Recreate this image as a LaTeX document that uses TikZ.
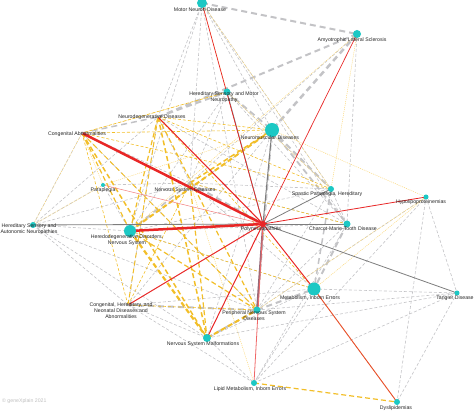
\documentclass[tikz,border=0pt]{standalone}
\usepackage{fontspec}
\setmainfont{Liberation Sans}
\usepackage{xcolor}
\usetikzlibrary{positioning,calc}

\definecolor{nodecyan}{RGB}{28,200,196}
\definecolor{edgered}{RGB}{232,38,38}
\definecolor{edgeyel}{RGB}{242,190,40}
\definecolor{edgelyel}{RGB}{250,215,120}
\definecolor{edgegrey}{RGB}{195,195,198}
\definecolor{edgedark}{RGB}{125,125,125}

\tikzset{
  dis/.style={circle, fill=nodecyan, inner sep=0pt, minimum size=#1},
  hub/.style={circle, fill=black!25, inner sep=0pt, minimum size=3pt},
  lbl/.style={font=\fontsize{5.2}{6}\selectfont, text=black!85, align=center, inner sep=0pt},
  gthin/.style={draw=edgegrey, line width=0.6pt, dash pattern=on 3pt off 2pt},
  gthick/.style={draw=edgegrey, line width=#1, dash pattern=on 6pt off 4pt},
  ythick/.style={draw=edgeyel, line width=#1, dash pattern=on 5pt off 3pt},
  ythin/.style={draw=edgeyel, line width=0.6pt, dash pattern=on 3pt off 2pt},
  ydot/.style={draw=edgelyel, line width=0.5pt, dash pattern=on 1pt off 1pt},
  redline/.style={draw=edgered, line width=#1},
  darkline/.style={draw=edgedark, line width=#1},
}

\begin{document}
\begin{tikzpicture}[x=1pt, y=-1pt]
  \useasboundingbox (0,0) rectangle (474,411);

  % disease nodes
  \coordinate (mnd) at (202,3);
  \coordinate (als) at (357,34);
  \coordinate (hsmn) at (227,92);
  \coordinate (neuro) at (158,117);
  \coordinate (cong) at (82,133);
  \coordinate (nmd) at (272,130);
  \coordinate (nsd) at (190,183);
  \coordinate (para) at (103,185);
  \coordinate (sph) at (331,189);
  \coordinate (hypo) at (426,197);
  \coordinate (hsan) at (33,225);
  \coordinate (hdnd) at (130,231);
  \coordinate (poly) at (263,224);
  \coordinate (cmt) at (347,224);
  \coordinate (mie) at (314,289);
  \coordinate (tang) at (457,293);
  \coordinate (pnsd) at (257,310);
  \coordinate (chnd) at (128,305);
  \coordinate (nsm) at (207,338);
  \coordinate (lmie) at (254,383);
  \coordinate (dysl) at (397,402);

  % thin grey links
  \foreach \a/\b in {mnd/neuro, mnd/nsd, mnd/hdnd, mnd/pnsd, mnd/cmt, mnd/nmd, mnd/sph,
      als/nsd, als/cmt, hsmn/nsd, hsmn/cmt, hsmn/sph, hsmn/hdnd,
      neuro/chnd, neuro/nsd, neuro/cmt, cong/hsan, cong/nsd, cong/pnsd,
      nmd/chnd, nmd/nsm, nmd/hdnd, nsd/sph, nsd/cmt, nsd/mie,
      para/hsan, para/nsd, para/hdnd, hsan/neuro, hsan/hdnd, hsan/chnd,
      hsan/nsm, hsan/pnsd, hsan/nsd, hdnd/cmt, hdnd/sph, hdnd/mie,
      chnd/nsm, chnd/lmie, chnd/mie, nsm/mie, nsm/lmie, nsm/tang,
      pnsd/tang, pnsd/cmt, pnsd/sph, mie/tang, mie/lmie,
      lmie/hypo, lmie/tang, lmie/cmt, hypo/dysl, tang/dysl, hypo/tang,
      mie/dysl, cmt/sph, pnsd/hypo}
    \draw[gthin] (\a) -- (\b);

  % heavy grey links
  \foreach \a/\b/\w in {mnd/als/2pt, als/neuro/2pt, als/nmd/2.5pt, neuro/hsmn/2pt,
      hsmn/nmd/1.8pt, nmd/sph/2pt, nmd/cmt/1.8pt, cong/neuro/1.5pt,
      pnsd/mie/2pt, cmt/mie/2pt, hdnd/nsd/1.5pt, chnd/pnsd/2pt,
      nsm/pnsd/2pt, pnsd/nmd/1.8pt, nsd/poly/2pt, sph/mie/1.5pt}
    \draw[gthick=\w] (\a) -- (\b);

  % light yellow links
  \foreach \a/\b in {mnd/hsmn, mnd/sph, als/sph, als/hdnd, nmd/hypo, hypo/pnsd,
      hypo/mie, para/nmd, para/cong, para/hsan, sph/hsmn, nsd/lmie,
      cong/hsmn, hsan/cong}
    \draw[ydot] (\a) -- (\b);

  % yellow links
  \foreach \a/\b in {cong/nmd, neuro/nmd, chnd/pnsd, cong/chnd, hdnd/mie,
      neuro/mie, neuro/sph, hsmn/cong, nsd/cmt, chnd/nsd, cong/sph}
    \draw[ythin] (\a) -- (\b);

  \foreach \a/\b/\w in {hdnd/nmd/2pt, hdnd/nsm/2.2pt, cong/nsm/1.5pt, neuro/nsm/1.5pt,
      nsm/pnsd/2pt, cong/hdnd/1.2pt, neuro/hdnd/1.2pt, hdnd/pnsd/1.2pt,
      neuro/pnsd/1.2pt, lmie/dysl/1.2pt, cong/pnsd/1pt, nsd/nsm/1.2pt,
      chnd/neuro/1pt, nsd/nmd/1.5pt}
    \draw[ythick=\w] (\a) -- (\b);

  % solid links of Polyneuropathies
  \foreach \b/\w in {hsmn/0.8pt, nmd/1pt, sph/0.8pt, cmt/0.8pt, tang/0.8pt, hsan/0.8pt}
    \draw[darkline=\w] (poly) -- (\b);
  \draw[draw={rgb,255:red,150;green,105;blue,120}, line width=1.8pt] (poly) -- (pnsd);

  \foreach \b/\w in {mnd/0.7pt, als/0.7pt, neuro/1.1pt, cong/2.5pt, hdnd/2.5pt,
      chnd/1pt, nsm/1pt, mie/1pt, hypo/0.8pt}
    \draw[redline=\w] (poly) -- (\b);
  \draw[draw=edgered!60, line width=0.5pt] (poly) -- (para);
  \draw[draw=edgered!70, line width=0.8pt] (poly) -- (lmie);
  \draw[draw={rgb,255:red,235;green,80;blue,40}, line width=0.9pt] (mie) -- (dysl);

  % node dots
  \node[dis=10pt] (mndN) at (mnd) {};
  \node[dis=8pt] (alsN) at (als) {};
  \node[dis=7pt] (hsmnN) at (hsmn) {};
  \node[hub] (neuroN) at (neuro) {};
  \node[hub] (congN) at (cong) {};
  \node[dis=14pt] (nmdN) at (nmd) {};
  \node[hub] (nsdN) at (nsd) {};
  \node[dis=4pt] (paraN) at (para) {};
  \node[dis=6pt] (sphN) at (sph) {};
  \node[dis=5pt] (hypoN) at (hypo) {};
  \node[dis=6pt] (hsanN) at (hsan) {};
  \node[dis=12pt] (hdndN) at (hdnd) {};
  \node[circle, fill=edgered, inner sep=0pt, minimum size=6pt] (polyN) at (poly) {};
  \node[dis=7pt] (cmtN) at (cmt) {};
  \node[dis=13pt] (mieN) at (mie) {};
  \node[dis=5pt] (tangN) at (tang) {};
  \node[dis=7pt] (pnsdN) at (pnsd) {};
  \node[hub] (chndN) at (chnd) {};
  \node[dis=8pt] (nsmN) at (nsm) {};
  \node[dis=6pt] (lmieN) at (lmie) {};
  \node[dis=6pt] (dyslN) at (dysl) {};

  % labels
  \node[lbl] (mndL) at (200,10) {Motor Neuron Disease};
  \node[lbl] (alsL) at (352,40) {Amyotrophic Lateral Sclerosis};
  \node[lbl] (hsmnL) at (224,97) {Hereditary Sensory and Motor\\Neuropathy};
  \node[lbl] (neuroL) at (152,117) {Neurodegenerative Diseases};
  \node[lbl] (congL) at (77,134) {Congenital Abnormalities};
  \node[lbl] (nmdL) at (270,138) {Neuromuscular Diseases};
  \node[lbl] (nsdL) at (185,190) {Nervous System Diseases};
  \node[lbl] (paraL) at (103,190) {Paraplegia};
  \node[lbl] (sphL) at (327,194) {Spastic Paraplegia, Hereditary};
  \node[lbl] (hypoL) at (421,202) {Hypolipoproteinemias};
  \node[lbl] (hsanL) at (29,229) {Hereditary Sensory and\\Autonomic Neuropathies};
  \node[lbl] (hdndL) at (127,240) {Heredodegenerative Disorders,\\Nervous System};
  \node[lbl] (polyL) at (261,229) {Polyneuropathies};
  \node[lbl] (cmtL) at (343,229) {Charcot-Marie-Tooth Disease};
  \node[lbl] (mieL) at (310,298) {Metabolism, Inborn Errors};
  \node[lbl] (tangL) at (455,298) {Tangier Disease};
  \node[lbl] (pnsdL) at (254,316) {Peripheral Nervous System\\Diseases};
  \node[lbl] (chndL) at (121,311) {Congenital, Hereditary, and\\Neonatal Diseases and\\Abnormalities};
  \node[lbl] (nsmL) at (203,344) {Nervous System Malformations};
  \node[lbl] (lmieL) at (250,389) {Lipid Metabolism, Inborn Errors};
  \node[lbl] (dyslL) at (396,408) {Dyslipidemias};
  \node[lbl, text=black!25, anchor=west] (mark) at (2,401) {\textcopyright{} geneXplain 2021};
\end{tikzpicture}
\end{document}
